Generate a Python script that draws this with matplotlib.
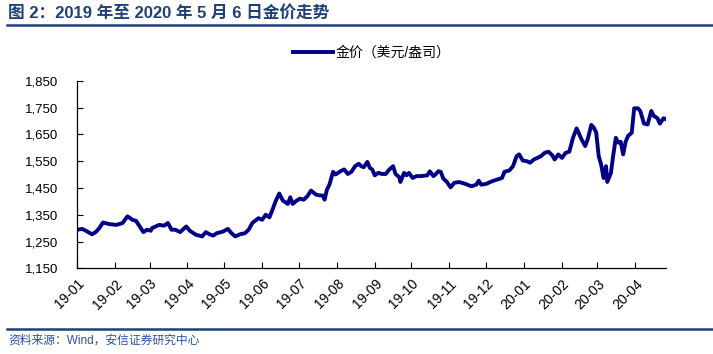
import matplotlib
matplotlib.use("Agg")
import matplotlib.pyplot as plt
import matplotlib.dates as mdates
from matplotlib.lines import Line2D
import pandas as pd

plt.rcParams['font.family'] = ['Liberation Sans', 'Noto Sans CJK SC', 'DejaVu Sans']

title = "图 2：2019 年至 2020 年 5 月 6 日金价走势"
source = "资料来源：Wind，安信证券研究中心"
series_name = "金价（美元/盎司）"

dates = [
    "2019-01-01", "2019-01-05", "2019-01-08", "2019-01-13", "2019-01-16", "2019-01-19",
    "2019-01-22", "2019-01-27", "2019-02-02", "2019-02-07", "2019-02-11", "2019-02-15",
    "2019-02-18", "2019-02-21", "2019-02-24", "2019-02-27", "2019-03-02", "2019-03-03",
    "2019-03-06", "2019-03-09", "2019-03-13", "2019-03-16", "2019-03-19", "2019-03-22",
    "2019-03-26", "2019-03-31", "2019-04-03", "2019-04-08", "2019-04-13", "2019-04-16",
    "2019-04-19", "2019-04-22", "2019-04-25", "2019-04-30", "2019-05-04", "2019-05-07",
    "2019-05-10", "2019-05-14", "2019-05-18", "2019-05-21", "2019-05-24", "2019-05-29",
    "2019-06-01", "2019-06-04", "2019-06-07", "2019-06-10", "2019-06-12", "2019-06-15",
    "2019-06-18", "2019-06-20", "2019-06-22", "2019-06-24", "2019-06-26", "2019-06-29",
    "2019-07-02", "2019-07-05", "2019-07-08", "2019-07-11", "2019-07-15", "2019-07-18",
    "2019-07-21", "2019-07-22", "2019-07-24", "2019-07-26", "2019-07-29", "2019-07-31",
    "2019-08-04", "2019-08-07", "2019-08-10", "2019-08-13", "2019-08-16", "2019-08-19",
    "2019-08-21", "2019-08-23", "2019-08-26", "2019-08-28", "2019-08-30", "2019-09-01",
    "2019-09-04", "2019-09-07", "2019-09-10", "2019-09-13", "2019-09-16", "2019-09-18",
    "2019-09-21", "2019-09-22", "2019-09-25", "2019-09-27", "2019-09-29", "2019-10-02",
    "2019-10-05", "2019-10-09", "2019-10-14", "2019-10-16", "2019-10-19", "2019-10-21",
    "2019-10-23", "2019-10-25", "2019-10-27", "2019-10-30", "2019-11-02", "2019-11-05",
    "2019-11-09", "2019-11-14", "2019-11-19", "2019-11-23", "2019-11-25", "2019-11-27",
    "2019-12-01", "2019-12-06", "2019-12-10", "2019-12-14", "2019-12-16", "2019-12-20",
    "2019-12-23", "2019-12-26", "2019-12-28", "2019-12-31", "2020-01-03", "2020-01-06",
    "2020-01-09", "2020-01-12", "2020-01-15", "2020-01-18", "2020-01-21", "2020-01-24",
    "2020-01-26", "2020-01-29", "2020-02-01", "2020-02-04", "2020-02-07", "2020-02-10",
    "2020-02-13", "2020-02-17", "2020-02-20", "2020-02-22", "2020-02-25", "2020-02-27",
    "2020-02-29", "2020-03-02", "2020-03-04", "2020-03-06", "2020-03-08", "2020-03-09",
    "2020-03-12", "2020-03-14", "2020-03-16", "2020-03-18", "2020-03-20", "2020-03-22",
    "2020-03-24", "2020-03-26", "2020-03-29", "2020-03-31", "2020-04-03", "2020-04-05",
    "2020-04-08", "2020-04-11", "2020-04-14", "2020-04-16", "2020-04-19", "2020-04-21",
    "2020-04-24", "2020-04-26",
]

prices = [
    1294, 1297, 1290, 1277, 1285, 1300,
    1321, 1315, 1312, 1319, 1344, 1331,
    1327, 1306, 1285, 1294, 1290, 1300,
    1306, 1312, 1309, 1319, 1294, 1294,
    1285, 1306, 1290, 1275, 1269, 1285,
    1277, 1272, 1281, 1287, 1297, 1281,
    1269, 1277, 1281, 1294, 1319, 1337,
    1331, 1350, 1340, 1375, 1400, 1429,
    1402, 1397, 1390, 1415, 1390, 1402,
    1410, 1406, 1419, 1440, 1425, 1422,
    1421, 1406, 1444, 1462, 1510, 1500,
    1512, 1519, 1502, 1510, 1531, 1540,
    1531, 1527, 1547, 1525, 1519, 1497,
    1506, 1502, 1502, 1519, 1531, 1502,
    1490, 1472, 1506, 1497, 1506, 1487,
    1494, 1494, 1497, 1512, 1494, 1502,
    1512, 1510, 1485, 1472, 1452, 1469,
    1472, 1465, 1456, 1462, 1477, 1462,
    1465, 1475, 1481, 1487, 1510, 1515,
    1531, 1569, 1575, 1552, 1550, 1544,
    1556, 1562, 1569, 1581, 1585, 1572,
    1556, 1575, 1562, 1581, 1585, 1637,
    1672, 1631, 1606, 1631, 1685, 1675,
    1656, 1569, 1537, 1487, 1531, 1472,
    1506, 1575, 1637, 1619, 1622, 1575,
    1622, 1644, 1656, 1747, 1747, 1737,
    1690, 1687, 1737, 1719, 1710, 1690,
    1710, 1706,
]

y_ticks = [1150, 1250, 1350, 1450, 1550, 1650, 1750, 1850]

W, H = 713, 354
fig = plt.figure(figsize=(W / 100, H / 100), dpi=100)

left, right, top, bottom = 77.3, 666, 80.7, 268.3
ax = fig.add_axes([left / W, 1 - bottom / H, (right - left) / W, (bottom - top) / H])

x = pd.to_datetime(dates)
ax.plot(x, prices, color='#00008B', lw=2.8, solid_joinstyle='round', label=series_name)

ax.set_ylim(1150, 1850)
ax.set_yticks(y_ticks)
ax.set_yticklabels([f"{v:,}" for v in y_ticks])
ax.set_xlim(pd.Timestamp("2019-01-01"), x[-1])
ax.xaxis.set_major_locator(mdates.MonthLocator())
ax.xaxis.set_major_formatter(mdates.DateFormatter('%y-%m'))

for s in ['top', 'right']:
    ax.spines[s].set_visible(False)
for s in ['left', 'bottom']:
    ax.spines[s].set_color('#000000')
    ax.spines[s].set_linewidth(0.9)

ax.tick_params(axis='both', direction='in', length=4, width=0.8, color='#000000',
               labelcolor='#000000')
ax.tick_params(axis='y', pad=14, labelsize=9.5)
ax.tick_params(axis='x', pad=6, labelsize=10)
for lab in ax.get_xticklabels():
    lab.set_rotation(45)
    lab.set_ha('right')
    lab.set_rotation_mode('anchor')

ax.legend(loc='center', bbox_to_anchor=(0.5, (bottom - 53) / (bottom - top)),
          frameon=False, fontsize=10, handlelength=2.9, handletextpad=0.2,
          borderaxespad=0)

fig.text(8 / W, 1 - 13 / H, title, fontsize=12, fontweight='bold', color='#1F3F7A',
         va='center', ha='left')
fig.add_artist(Line2D([7 / W, 1.0], [1 - 24.5 / H] * 2, color='#1F3F7A', lw=1.8))
fig.add_artist(Line2D([7 / W, 1.0], [1 - 329 / H] * 2, color='#1F3F7A', lw=1.8))
fig.text(8 / W, 1 - 341 / H, source, fontsize=8.5, color='#2A52A8', va='center', ha='left')

fig.savefig("out.png", dpi=100, facecolor='white')
